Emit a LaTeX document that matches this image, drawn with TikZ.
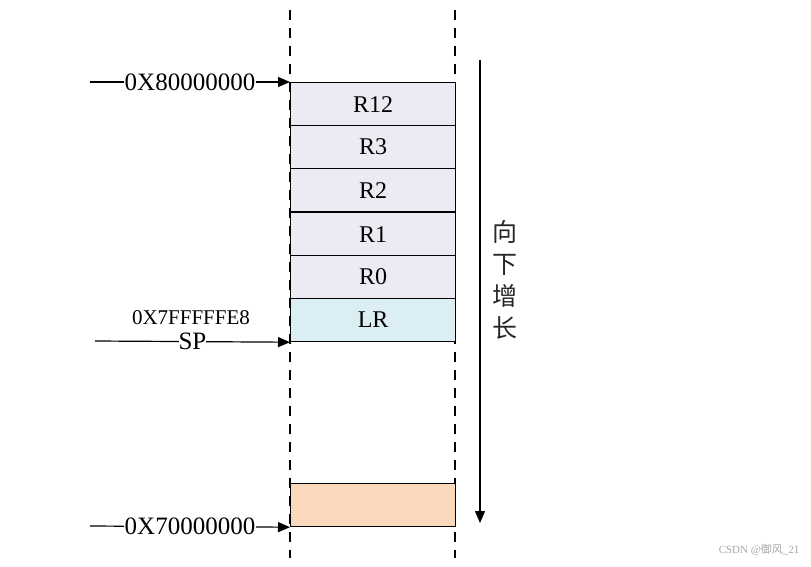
\documentclass[tikz,border=0pt]{standalone}
\usepackage{fontspec}
\setmainfont{Liberation Serif}
\newfontfamily\cjk{Noto Sans CJK SC}
\usetikzlibrary{arrows.meta}
\begin{document}
\begin{tikzpicture}[x=1pt,y=-1pt,
  cell/.style={draw,line width=1.2pt,minimum width=165pt,minimum height=43pt,anchor=north west,inner sep=0pt,font=\fontsize{24}{24}\selectfont},
  lab/.style={fill=white,inner sep=1pt,font=\fontsize{25}{25}\selectfont},
  arr/.style={line width=1.2pt,-{Triangle[length=12pt,width=10pt]}}]
\useasboundingbox (0,0) rectangle (811,567);
\definecolor{reg}{RGB}{236,234,242}
\definecolor{lr}{RGB}{218,238,243}
\definecolor{bot}{RGB}{250,216,188}
\draw[dashed,line width=1.2pt,dash pattern=on 10pt off 8pt] (290,10) -- (290,558);
\draw[dashed,line width=1.2pt,dash pattern=on 10pt off 8pt] (455,10) -- (455,558);
\node[cell,fill=reg] (r12) at (290,82) {R12};
\node[cell,fill=reg] (r3) at (290,125) {R3};
\node[cell,fill=reg] (r2) at (290,168) {R2};
\node[cell,fill=reg] (r1) at (290,212) {R1};
\node[cell,fill=reg] (r0) at (290,255) {R0};
\node[cell,fill=lr] (lrn) at (290,298) {LR};
\node[cell,fill=bot] (bt) at (290,483) {};
\coordinate (a1) at (90,82);
\coordinate (a2) at (95,341);
\coordinate (a3) at (90,526);
\draw[arr] (a1) -- node[lab]{0X80000000} (r12.north west);
\draw[arr] (a2) -- node[lab,inner sep=0pt]{SP} (lrn.south west);
\node[font=\fontsize{21}{21}\selectfont] (sp) at (191,318) {0X7FFFFFE8};
\draw[arr] (a3) -- node[lab]{0X70000000} (bt.south west);
\coordinate (g1) at (480,60);
\coordinate (g2) at (480,523);
\draw[arr] (g1) -- (g2);
\node[font=\cjk\fontsize{25}{32}\selectfont,align=center,text=black!85] (dn) at (505,280) {向\\下\\增\\长};
\node[font=\fontsize{11}{11}\selectfont,text=black!35,anchor=east] (wm) at (803,550) {CSDN @{\cjk 御风}\_21};
\end{tikzpicture}
\end{document}
